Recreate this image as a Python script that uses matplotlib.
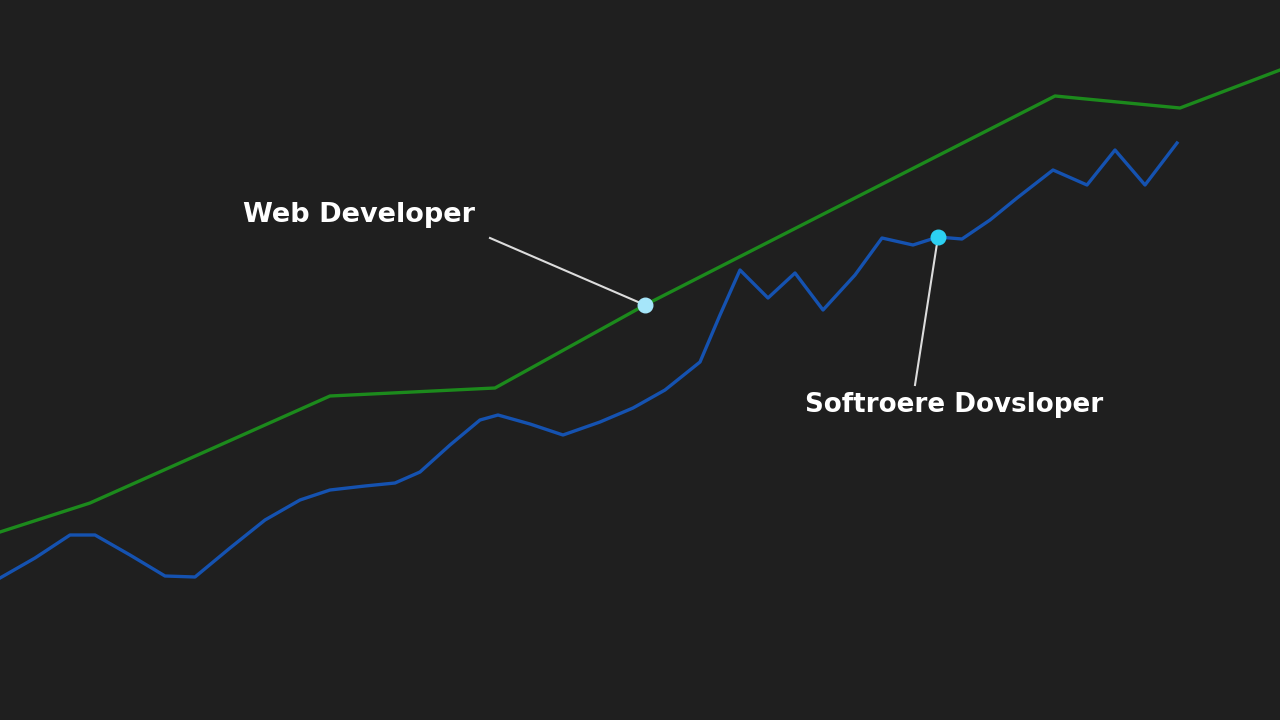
import matplotlib
matplotlib.use("Agg")
from matplotlib import pyplot as plt

# series (x = position along the timeline, y = level)
web_x = [0, 90, 330, 495, 645, 1055, 1180, 1280]
web_y = [188, 217, 324, 332, 415, 624, 612, 650]

soft_x = [0, 35, 70, 95, 130, 165, 195, 230, 265, 300, 330, 365, 395, 420, 450,
          480, 498, 530, 563, 600, 633, 665, 700, 720, 740, 768, 795, 823, 855,
          882, 913, 938, 962, 990, 1017, 1053, 1087, 1115, 1145, 1177]
soft_y = [142, 162, 185, 185, 165, 144, 143, 172, 200, 220, 230, 234, 237, 248, 275,
          300, 305, 296, 285, 298, 312, 330, 358, 405, 450, 422, 447, 410, 445,
          482, 475, 483, 481, 500, 522, 550, 535, 570, 535, 577]

labels = ["Web Developer", "Softroere Dovsloper"]
label_pos = [(243, 505), (805, 315)]
label_size = [19.5, 18.8]
pick_web = 4       # index into web series for the marker
pick_soft = 31     # index into soft series for the marker

bg = "#1f1f1f"
fig = plt.figure(figsize=(12.8, 7.2), dpi=100, facecolor=bg)
ax = fig.add_axes([0, 0, 1, 1])
ax.set_facecolor(bg)
ax.set_xlim(0, 1280)
ax.set_ylim(0, 720)
ax.axis("off")

ax.plot(web_x, web_y, color="#1c8a1c", lw=2.4, solid_joinstyle="round")
ax.plot(soft_x, soft_y, color="#1552b0", lw=2.4, solid_joinstyle="round")

# leader lines
ax.plot([490, web_x[pick_web]], [482, web_y[pick_web]], color="#dcdcdc", lw=1.5)
ax.plot([915, soft_x[pick_soft]], [335, soft_y[pick_soft]], color="#dcdcdc", lw=1.5)

ax.scatter([web_x[pick_web]], [web_y[pick_web]], s=110, color="#a6e6fa", zorder=5)
ax.scatter([soft_x[pick_soft]], [soft_y[pick_soft]], s=110, color="#2cd0f2", zorder=5)

for txt, (lx, ly), fs in zip(labels, label_pos, label_size):
    ax.text(lx, ly, txt, color="white", fontsize=fs, fontweight="bold",
            ha="left", va="center", family="DejaVu Sans")

fig.savefig("out.png", dpi=100, facecolor=bg)
